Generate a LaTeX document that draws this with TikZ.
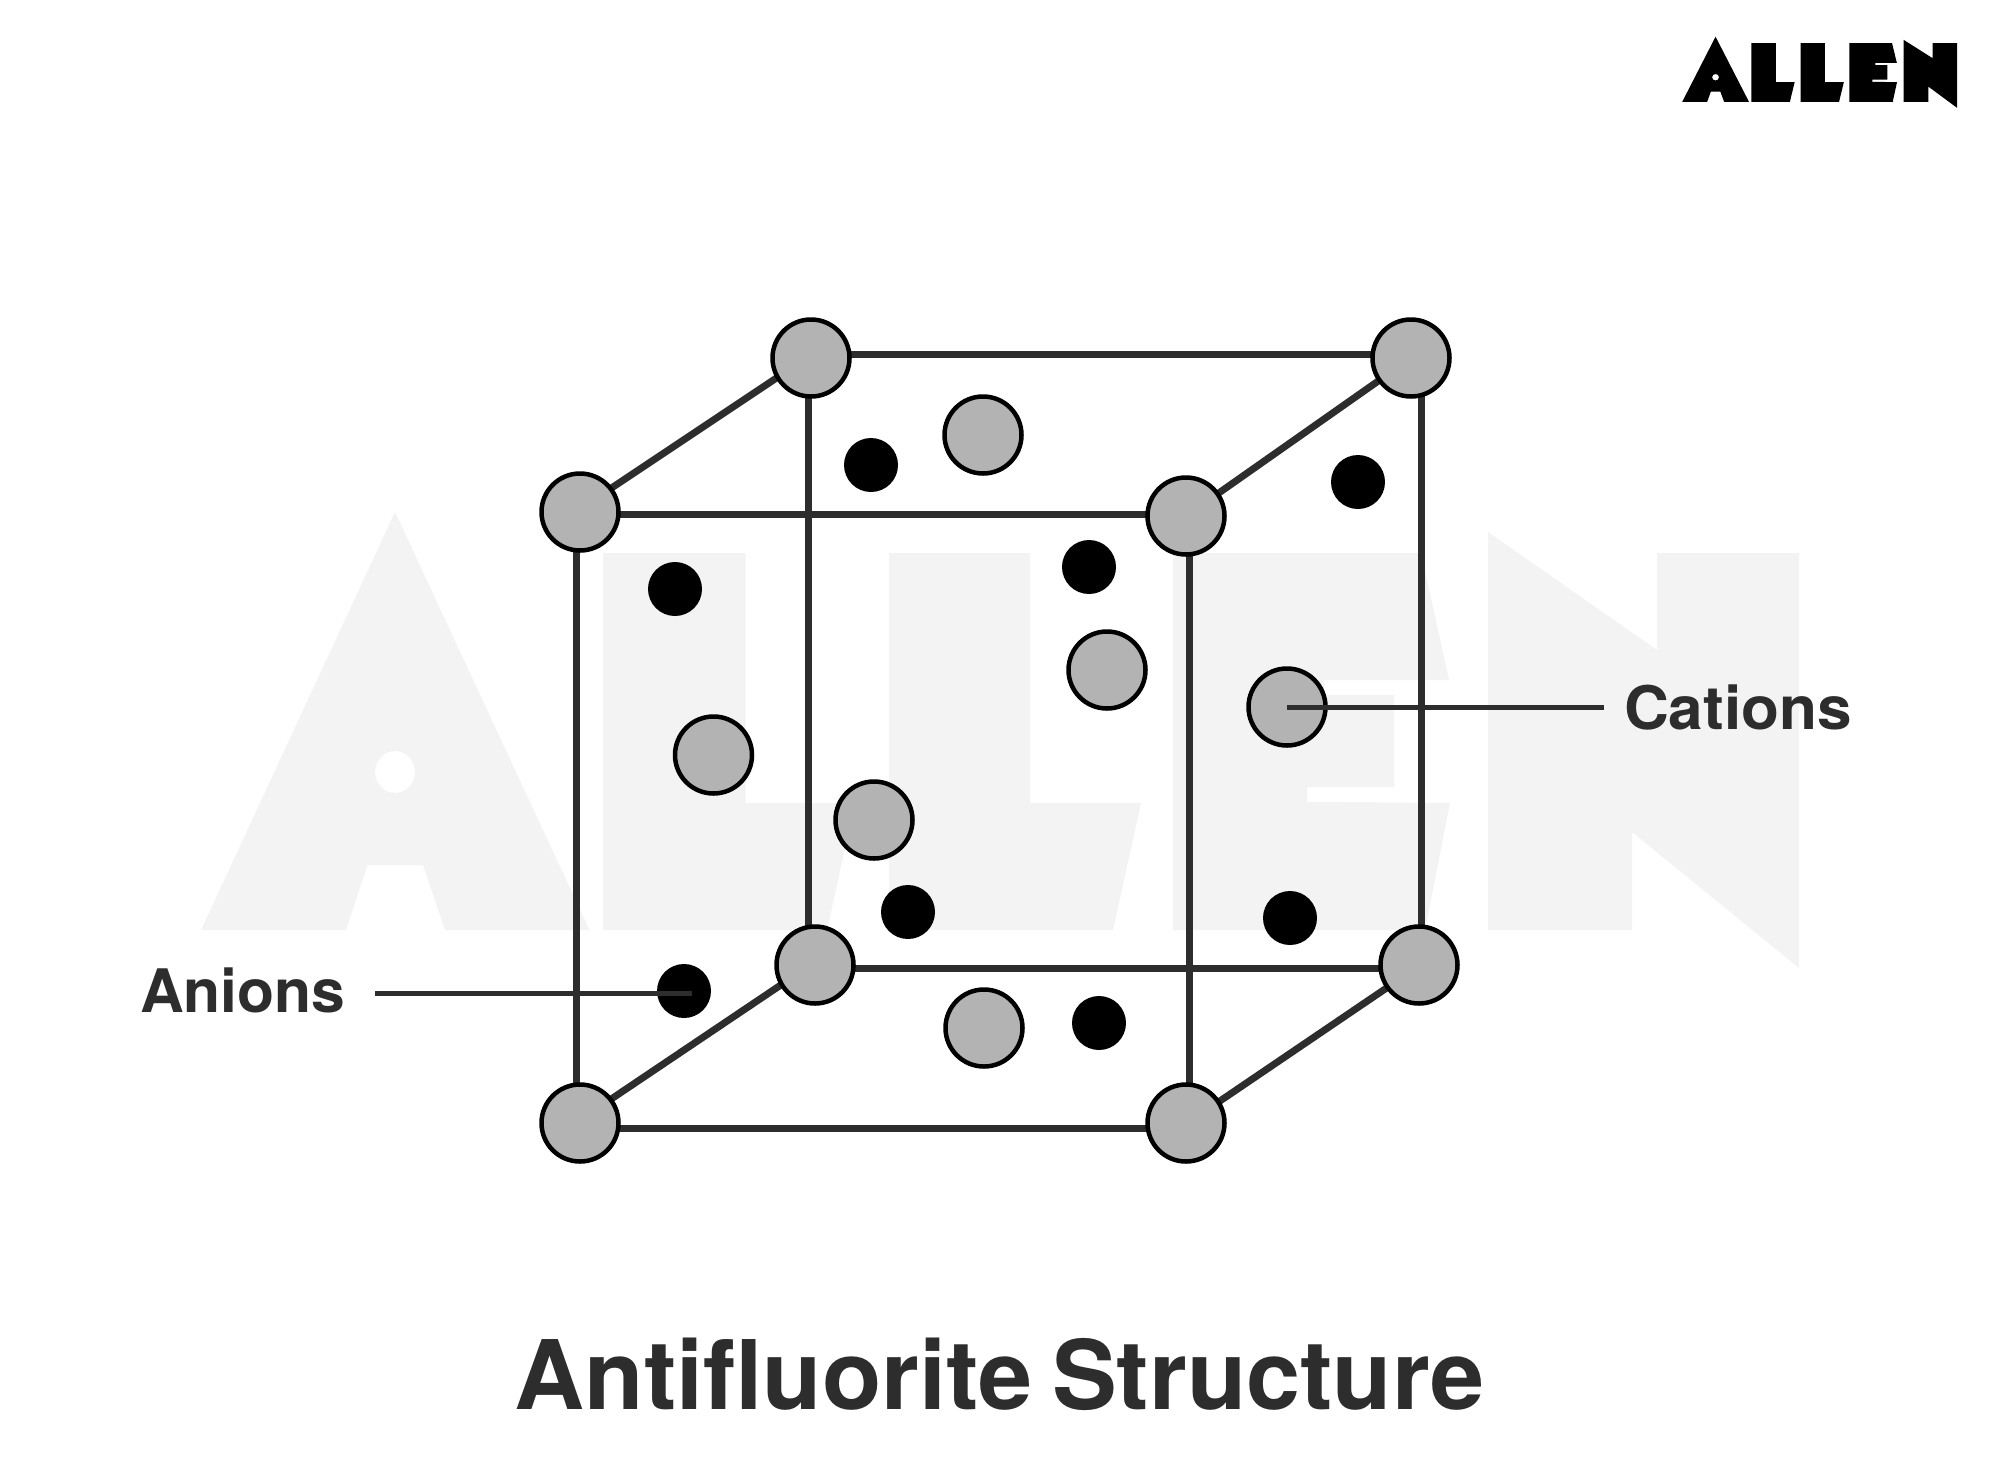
\documentclass[tikz,border=0pt]{standalone}
\usepackage{fontspec}
\setmainfont{TeX Gyre Heros}
\usetikzlibrary{calc}
\pgfdeclarelayer{wm}
\pgfdeclarelayer{lines}
\pgfsetlayers{wm,lines,main}
\definecolor{ink}{HTML}{2D2D2D}
\definecolor{wmgray}{HTML}{F3F3F3}
\definecolor{atomgray}{HTML}{B3B3B3}
\newcommand{\allenshape}{%
 (395,512) -- (589.5,930) -- (445,930) -- (423,865) -- (367.5,865) -- (346,930) -- (201,930) -- cycle
 (415,772) arc[x radius=20,y radius=21,start angle=0,end angle=360] -- cycle
 (603,553) -- (745.6,553) -- (745.6,803) -- (855,803) -- (827,930) -- (603,930) -- cycle
 (889,553) -- (1030,553) -- (1030,803) -- (1141,803) -- (1113,930) -- (889,930) -- cycle
 (1173,553) -- (1421,553) -- (1449,680) -- (1324,680) -- (1324,695) -- (1394,695) -- (1394,787) -- (1307,787) -- (1307,802) -- (1450,803) -- (1425,930) -- (1173,930) -- cycle
 (1488,532) -- (1657,650) -- (1657,553) -- (1799,553) -- (1799,968) -- (1632,832) -- (1632,930) -- (1488,930) -- cycle}
\tikzset{
 cation/.style={circle,draw=black,fill=atomgray,line width=4.5pt,minimum size=77pt,inner sep=0pt,outer sep=0pt},
 anion/.style={circle,fill=black,minimum size=54pt,inner sep=0pt,outer sep=0pt},
 edge/.style={draw=ink,line width=7pt},
 leader/.style={draw=ink,line width=5pt},
 labeltext/.style={text=ink,font=\fontsize{60}{60}\selectfont\bfseries,inner sep=0pt,outer sep=0pt,anchor=base west},
 titletext/.style={text=ink,font=\fontsize{96}{96}\selectfont\bfseries,inner sep=0pt,outer sep=0pt,anchor=base}
}
\begin{document}
\begin{tikzpicture}[x=1pt,y=-1pt]
\useasboundingbox (0,0) rectangle (1999,1481);
\begin{pgfonlayer}{wm}
\fill[white] (0,0) rectangle (1999,1481);
\fill[wmgray,even odd rule] \allenshape;
\end{pgfonlayer}
% logo
\begin{scope}[shift={(1647.6,-43.2)},x=0.172pt,y=-0.156pt]
\fill[black,even odd rule] \allenshape;
\end{scope}
% corners
\node[cation] (TBL) at (811,358) {};
\node[cation] (TBR) at (1411,358) {};
\node[cation] (TFL) at (580,512) {};
\node[cation] (TFR) at (1186,516) {};
\node[cation] (BBL) at (815,965) {};
\node[cation] (BBR) at (1419,965) {};
\node[cation] (BFL) at (580,1123) {};
\node[cation] (BFR) at (1186,1123) {};
% interior cations
\node[cation] (G1) at (983,435) {};
\node[cation] (G2) at (1107,670) {};
\node[cation] (G3) at (713.5,755) {};
\node[cation] (G4) at (874,820) {};
\node[cation] (G5) at (1287,707) {};
\node[cation] (G6) at (984,1028) {};
% anions
\node[anion] (K1) at (871,465) {};
\node[anion] (K2) at (1358,482) {};
\node[anion] (K3) at (675,589) {};
\node[anion] (K4) at (1089,567) {};
\node[anion] (K5) at (908,912) {};
\node[anion] (K6) at (1290,918) {};
\node[anion] (K7) at (684,991) {};
\node[anion] (K8) at (1099,1023) {};
% edges
\begin{pgfonlayer}{lines}
\path[edge] ([yshift=3.5pt]TBL.center) -- ([yshift=3.5pt]TBR.center);
\path[edge] ([yshift=-2pt]TFL.center) -- ([yshift=2pt]TFR.center);
\path[edge] ([yshift=-3pt]BBL.center) -- ([yshift=-3pt]BBR.center);
\path[edge] ([yshift=-5pt]BFL.center) -- ([yshift=-5pt]BFR.center);
\path[edge] ([xshift=-3pt]TBL.center) -- ([xshift=-7pt]BBL.center);
\path[edge] ([xshift=10.5pt]TBR.center) -- ([xshift=2.5pt]BBR.center);
\path[edge] ([xshift=-4pt]TFL.center) -- ([xshift=-4pt]BFL.center);
\path[edge] ([xshift=3pt]TFR.center) -- ([xshift=3pt]BFR.center);
\path[edge] ([yshift=3pt]TBL.center) -- ([yshift=3pt]TFL.center);
\path[edge] (TBR.center) -- (TFR.center);
\path[edge] ([yshift=3pt]BBL.center) -- ([yshift=3pt]BFL.center);
\path[edge] ([yshift=-1pt]BBR.center) -- ([yshift=-1pt]BFR.center);
\end{pgfonlayer}
% labels
\node[labeltext] (Cations) at (1624,729) {\scalebox{1.035}[1]{Cations}};
\node[labeltext] (Anions) at (140,1012) {\scalebox{1.01}[1]{Anions}};
\node[titletext] (Title) at (999.5,1409) {\scalebox{1.012}[1]{Antifluorite\hspace{-7pt} Structure}};
% leaders
\coordinate (catEnd) at (1604,707);
\coordinate (anStart) at (375,993);
\coordinate (anEnd) at (692,993);
\path[leader] (G5.center) -- (catEnd);
\path[leader] (anStart) -- (anEnd);
\end{tikzpicture}
\end{document}
